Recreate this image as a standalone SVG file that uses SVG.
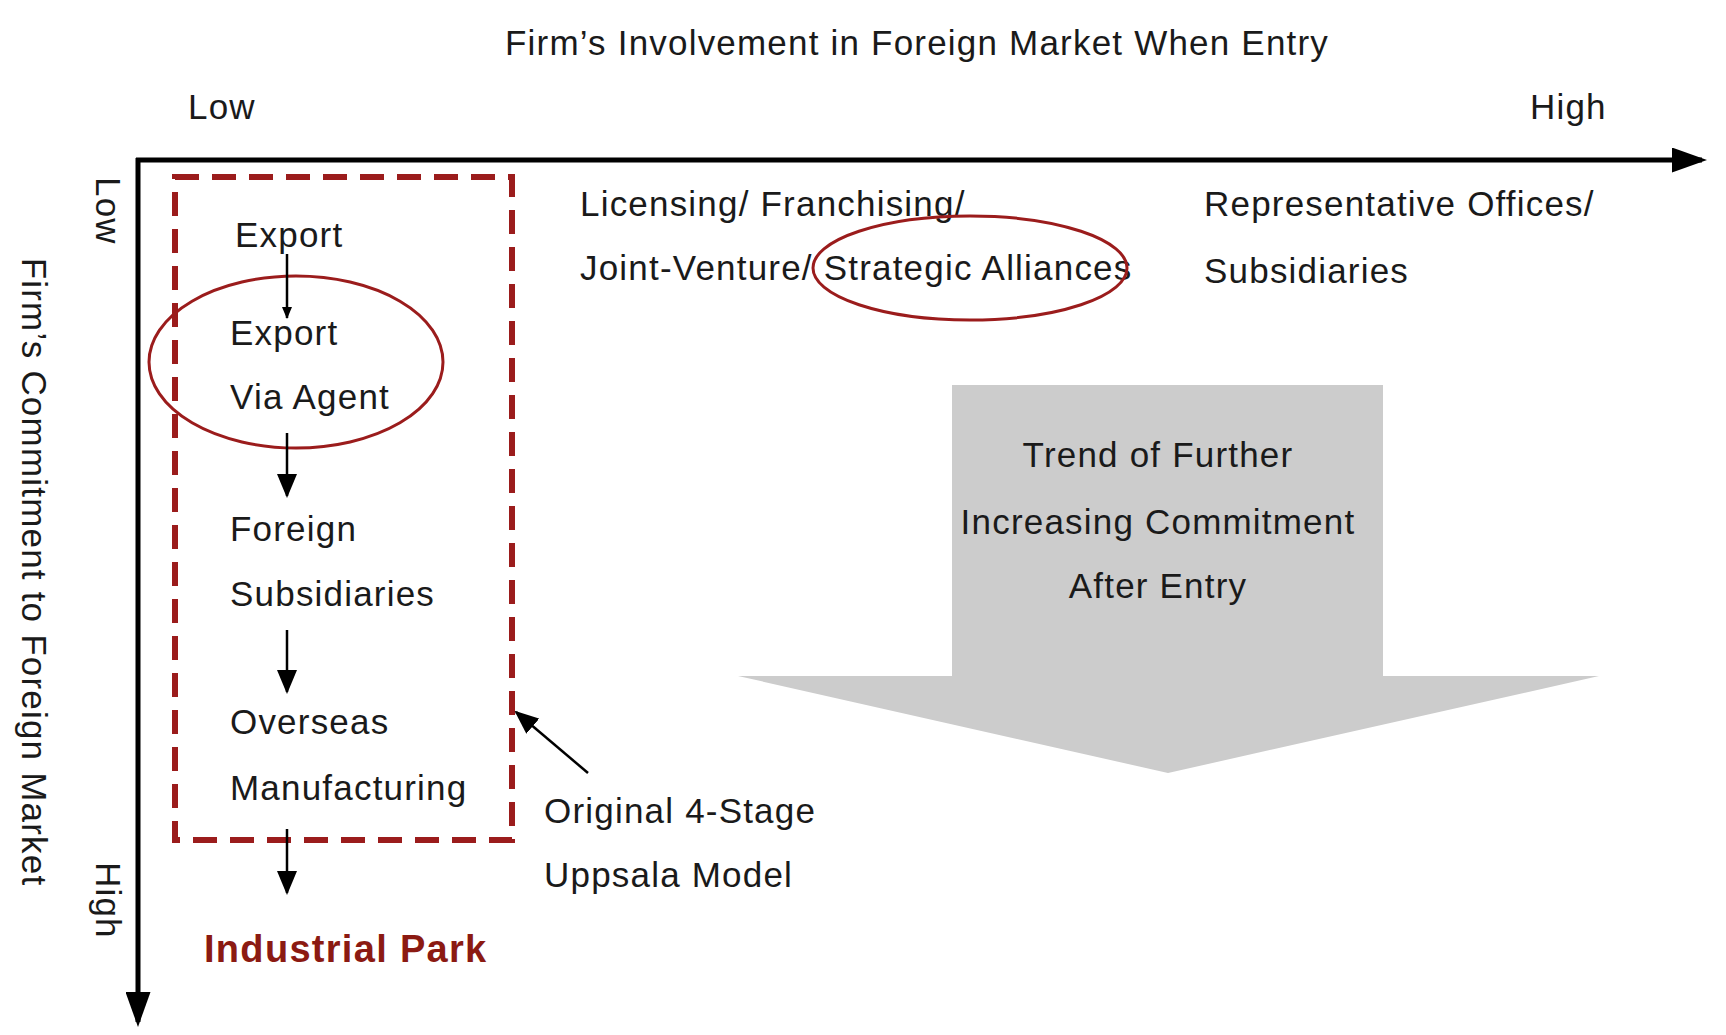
<svg xmlns="http://www.w3.org/2000/svg" width="1726" height="1035" viewBox="0 0 1726 1035">
<style>
text{font-family:"Liberation Sans",Arial,sans-serif;font-size:35px;letter-spacing:1.2px;fill:#1a1a1a}
.c{text-anchor:middle}
.ax{stroke:#000;stroke-width:5;fill:none}
.ar{stroke:#000;stroke-width:2.5;fill:none}
.red{stroke:#9b1c1c;fill:none}
</style>
<defs>
<marker id="big" markerWidth="7" markerHeight="5" refX="6" refY="2.5" orient="auto" markerUnits="strokeWidth"><path d="M0,0L7,2.5L0,5z" fill="#000"/></marker>
<marker id="sm" markerWidth="12" markerHeight="10" refX="11" refY="5" orient="auto" markerUnits="userSpaceOnUse"><path d="M0,0L12,5L0,10z" fill="#000"/></marker>
<marker id="smd" markerWidth="24" markerHeight="20" refX="22" refY="10" orient="auto" markerUnits="userSpaceOnUse"><path d="M0,0L24,10L0,20z" fill="#000"/></marker>
</defs>
<rect width="1726" height="1035" fill="#fff"/>
<g id="axes">
<text class="c" x="917" y="55">Firm’s Involvement in Foreign Market When Entry</text>
<text x="188" y="119">Low</text>
<text x="1530" y="119">High</text>
<line class="ax" x1="136" y1="160" x2="1702" y2="160" marker-end="url(#big)"/>
<line class="ax" x1="138" y1="158" x2="138" y2="1022" marker-end="url(#big)"/>
<text transform="translate(96,177) rotate(90)">Low</text>
<text transform="translate(96,862) rotate(90)">High</text>
<text class="c" transform="translate(22,572) rotate(90)">Firm’s Commitment to Foreign Market</text>
</g>
<g id="uppsala">
<rect class="red" x="175" y="177" width="337" height="663" stroke-width="6" stroke-dasharray="24,13"/>
<text x="235" y="247">Export</text>
<g id="agent"><ellipse class="red" cx="296" cy="362" rx="147" ry="86" stroke-width="3"/>
<text x="230" y="345">Export</text><text x="230" y="409">Via Agent</text></g>
<text x="230" y="541">Foreign</text><text x="230" y="606">Subsidiaries</text>
<text x="230" y="734">Overseas</text><text x="230" y="800">Manufacturing</text>
</g>
<g id="park"><text x="204" y="962" style="font-weight:bold;fill:#8b1a12;font-size:38px;letter-spacing:1.3px">Industrial Park</text></g>
<g id="licensing">
<text x="580" y="216">Licensing/ Franchising/</text>
<text x="580" y="280">Joint-Venture/ Strategic Alliances</text>
<ellipse class="red" cx="970" cy="268" rx="157" ry="52" stroke-width="3"/>
</g>
<g id="rep"><text x="1204" y="216">Representative Offices/</text><text x="1204" y="283">Subsidiaries</text></g>
<g id="trend">
<path d="M952,385H1383V676H1599L1168,773L738,676H952Z" fill="#cccccc"/>
<text class="c" x="1158" y="467">Trend of Further</text>
<text class="c" x="1158" y="534">Increasing Commitment</text>
<text class="c" x="1158" y="598">After Entry</text>
</g>
<g id="label"><text x="544" y="823">Original 4-Stage</text><text x="544" y="887">Uppsala Model</text></g>
<g id="connectors">
<line class="ar" x1="287" y1="254" x2="287" y2="318" marker-end="url(#sm)"/>
<line class="ar" x1="287" y1="433" x2="287" y2="496" marker-end="url(#smd)"/>
<line class="ar" x1="287" y1="630" x2="287" y2="692" marker-end="url(#smd)"/>
<line class="ar" x1="287" y1="829" x2="287" y2="893" marker-end="url(#smd)"/>
<line class="ar" x1="588" y1="773" x2="516" y2="712" marker-end="url(#smd)"/>
</g>
</svg>
